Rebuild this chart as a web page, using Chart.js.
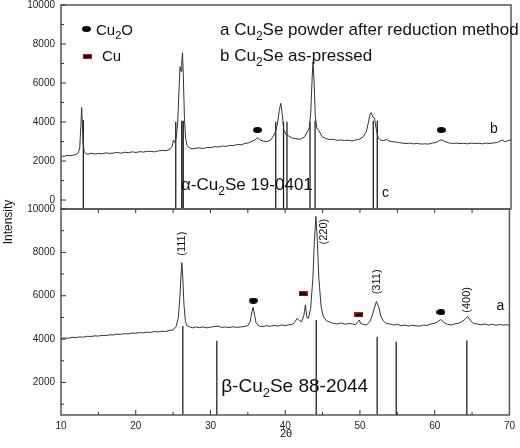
<!DOCTYPE html>
<html>
<head>
<meta charset="utf-8">
<script src="https://cdn.jsdelivr.net/npm/chart.js@4.4.0/dist/chart.umd.min.js"></script>
<style>
body{margin:0;background:#fff;}
#wrap{position:relative;width:520px;height:448px;}
#wrap canvas{position:absolute;left:0;}
</style>
</head>
<body>
<div id="wrap">
<canvas id="topChart" width="520" height="215" style="top:0"></canvas>
<canvas id="botChart" width="520" height="249" style="top:199px"></canvas>
</div>
<script>
const FONT = "'Liberation Sans', Arial, sans-serif";

// Trace b : Cu2Se as-pressed (top panel)
const bX = [10.0,10.4,10.8,11.2,11.6,12.0,12.3,12.5,12.65,12.75,12.85,12.95,13.1,13.3,13.6,14.0,14.5,15.0,15.5,16.0,16.5,17.0,17.5,18.0,18.5,19.0,19.5,20.0,20.5,21.0,21.5,22.0,22.5,23.0,23.5,24.0,24.5,24.8,25.0,25.15,25.35,25.55,25.75,25.87,26.0,26.1,26.2,26.3,26.45,26.6,26.8,27.0,27.3,27.6,28.0,28.5,29.0,29.5,30.0,30.5,31.0,31.5,32.0,32.5,33.0,33.5,34.0,34.5,35.0,35.5,35.9,36.2,36.5,37.0,37.5,38.0,38.3,38.6,38.9,39.1,39.3,39.5,39.7,40.0,40.3,40.7,41.2,41.6,42.0,42.5,42.9,43.1,43.3,43.5,43.6,43.75,43.9,44.1,44.4,44.8,45.3,45.8,46.3,46.8,47.3,47.8,48.3,48.8,49.3,49.8,50.3,50.7,51.0,51.2,51.35,51.6,51.8,52.0,52.3,52.6,53.0,53.4,53.6,54.0,54.5,55.0,55.5,56.0,56.5,57.0,57.5,58.0,58.5,59.0,59.5,60.0,60.5,60.8,61.2,61.7,62.2,62.7,63.2,63.7,64.2,64.7,65.2,65.7,66.2,66.7,67.2,67.7,68.2,68.8,69.2,69.6,70.0];
const bY = [2260,2240,2290,2270,2300,2330,2420,2700,3800,4750,3900,2900,2450,2380,2350,2400,2360,2390,2370,2420,2390,2410,2440,2400,2450,2430,2470,2440,2480,2460,2500,2490,2470,2520,2540,2530,2600,2750,3080,2950,3150,3900,5800,6840,6600,7100,7550,6500,4300,3200,2800,2700,2650,2620,2660,2670,2640,2700,2690,2740,2720,2770,2750,2800,2790,2850,2830,2900,2930,3020,3100,3200,3080,3020,2990,3100,3280,3500,4000,4600,4960,4400,3600,3350,3300,3200,3150,3120,3130,3250,3550,3700,4500,6400,7090,6000,4300,3700,3550,3250,3150,3100,3120,3060,3080,3050,3070,3030,3080,3120,3250,3500,4000,4400,4480,4250,4200,3700,3180,3080,3050,3100,3050,3000,2980,2950,2920,2900,2920,2880,2900,2870,2880,2870,2920,2950,3060,3080,3000,2930,2900,2920,2890,2910,2880,2920,2900,2910,2880,2920,2900,2930,2950,3080,2980,3050,3080];

// Trace a : Cu2Se powder after reduction (bottom panel)
const aX = [10.0,10.5,11.0,11.5,12.0,12.5,13.0,13.5,14.0,14.5,15.0,15.5,16.0,16.5,17.0,17.5,18.0,18.5,19.0,19.5,20.0,20.5,21.0,21.5,22.0,22.5,23.0,23.5,24.0,24.5,25.0,25.4,25.7,25.9,26.05,26.17,26.3,26.45,26.65,26.9,27.2,27.6,28.0,28.5,29.0,29.5,30.0,30.5,31.0,31.5,32.0,32.5,33.0,33.5,34.0,34.5,35.0,35.3,35.55,35.7,35.85,36.1,36.5,37.0,37.5,38.0,38.5,39.0,39.5,40.0,40.5,41.0,41.3,41.6,41.9,42.2,42.5,42.7,42.9,43.1,43.4,43.7,43.9,44.1,44.3,44.5,44.8,45.1,45.5,46.0,46.5,47.0,47.5,48.0,48.5,49.0,49.4,49.7,49.9,50.1,50.5,50.9,51.3,51.6,51.9,52.2,52.5,52.8,53.1,53.5,54.0,54.5,55.0,55.5,56.0,56.5,57.0,57.5,58.0,58.5,59.0,59.5,60.0,60.4,60.8,61.2,61.7,62.2,62.7,63.2,63.6,64.0,64.4,64.8,65.2,65.7,66.2,66.7,67.2,67.7,68.2,68.7,69.2,69.6,70.0];
const aY = [4030,4050,4040,4080,4070,4100,4090,4130,4120,4150,4140,4170,4160,4200,4190,4230,4220,4250,4240,4280,4270,4300,4290,4320,4310,4350,4330,4360,4350,4400,4420,4580,5000,5900,6900,7530,6800,5600,4800,4600,4570,4520,4560,4530,4560,4520,4550,4580,4600,4540,4560,4530,4570,4540,4560,4580,4620,4800,5250,5470,5200,4750,4600,4580,4620,4590,4630,4600,4650,4620,4660,4680,4800,4960,4850,4800,5100,5580,5000,4960,5400,6800,8500,9660,8500,6800,5500,5040,4850,4780,4720,4700,4740,4690,4720,4700,4660,4800,4880,4720,4680,4650,4800,5040,5400,5730,5500,5050,4850,4720,4700,4650,4680,4620,4650,4600,4640,4610,4600,4650,4630,4700,4730,4800,4900,4780,4680,4650,4700,4730,4800,4900,5040,4850,4720,4700,4660,4700,4650,4680,4640,4670,4650,4660,4650];

// reference patterns
const alphaX = [12.98,25.3,26.1,26.3,38.63,39.67,40.13,43.2,43.88,51.64,52.17];
const alphaTop = [4100,4020,4060,4060,4020,4020,4020,4020,4060,4060,4060];
const betaX = [26.3,30.85,44.15,52.3,54.85,64.3];
const betaTop = [4600,3920,4880,4110,3880,3930];

// phase markers
const cu2oTopX = [36.2,60.7];
const cu2oTopY = [3590,3590];
const cu2oBotX = [35.73,60.84];
const cu2oBotY = [5777,5240];
const cuBotX = [42.4,49.87];
const cuBotY = [6087,5115];

// peak indexes
const hklText = ['(111)','(220)','(311)','(400)'];
const hklX = [26.2,45.2,52.3,64.3];
const hklY = [8400,8955,6640,5810];

const yTicksTop = [0,2000,4000,6000,8000,10000];
const yTicksBot = [2000,4000,6000,8000,10000];

const xy = (xs, ys) => xs.map((v, i) => ({x: v, y: ys[i]}));

const sticks = (xs, tops, base) => {
    const pts = [];
    xs.forEach((v, i) => {
        pts.push({x: v, y: base}, {x: v, y: tops[i]}, {x: v, y: null});
    });
    return pts;
};

const ellipseImg = () => {
    const c = document.createElement('canvas');
    c.width = 9; c.height = 6;
    const g = c.getContext('2d');
    g.fillStyle = '#000';
    g.beginPath();
    g.ellipse(4.5, 3, 4.5, 3, 0, 0, Math.PI * 2);
    g.fill();
    return c;
};
const cuImg = () => {
    const c = document.createElement('canvas');
    c.width = 9; c.height = 5;
    const g = c.getContext('2d');
    g.fillStyle = '#d01010';
    g.fillRect(0, 0, 9, 5);
    g.fillStyle = '#000';
    g.fillRect(1, 1, 7, 3);
    return c;
};
const oxideMark = ellipseImg();
const copperMark = cuImg();

// text with "_x" subscripts
const drawRich = (ctx, str, x, y, size, align) => {
    const parts = [];
    for (let i = 0; i < str.length; i++) {
        if (str[i] === '_') {
            parts.push({t: str[i + 1], sub: true});
            i++;
        } else if (parts.length && !parts[parts.length - 1].sub) {
            parts[parts.length - 1].t += str[i];
        } else {
            parts.push({t: str[i], sub: false});
        }
    }
    let w = 0;
    parts.forEach(p => {
        ctx.font = (p.sub ? Math.round(size * 0.7) : size) + 'px ' + FONT;
        p.w = ctx.measureText(p.t).width;
        w += p.w;
    });
    let cx = align === 'center' ? x - w / 2 : x;
    ctx.textAlign = 'left';
    parts.forEach(p => {
        ctx.font = (p.sub ? Math.round(size * 0.7) : size) + 'px ' + FONT;
        ctx.fillText(p.t, cx, p.sub ? y + size * 0.28 : y);
        cx += p.w;
    });
};

const panelPlugin = {
    id: 'panel',
    afterDraw(chart, args, opts) {
        const {ctx, chartArea: a} = chart;
        const x = chart.scales.x, y = chart.scales.y;
        const seg = (x1, y1, x2, y2) => {
            ctx.beginPath(); ctx.moveTo(x1, y1); ctx.lineTo(x2, y2); ctx.stroke();
        };
        ctx.save();
        ctx.strokeStyle = '#555';
        ctx.lineWidth = 1.5;
        ctx.strokeRect(a.left, a.top, a.right - a.left, a.bottom - a.top);
        ctx.lineWidth = 1;
        ctx.strokeStyle = '#333';
        for (let v = opts.yStart; v <= 10000; v += 1000) {
            const py = y.getPixelForValue(v);
            seg(a.left, py, a.left + (v % 2000 === 0 ? 5 : 3), py);
        }
        for (let v = 15; v < 70; v += 5) {
            const px = x.getPixelForValue(v);
            if (opts.xBottom) seg(px, a.bottom, px, a.bottom - (v % 10 === 0 ? 5 : 3));
            if (opts.xTop) seg(px, a.top, px, a.top + 4);
        }
        ctx.fillStyle = '#111';
        ctx.textBaseline = 'alphabetic';
        opts.notes.forEach(n => {
            const px = n.x !== undefined ? x.getPixelForValue(n.x) : n.px;
            const py = n.y !== undefined ? y.getPixelForValue(n.y) : n.py;
            if (n.rot) {
                ctx.save();
                ctx.translate(px, py);
                ctx.rotate(-Math.PI / 2);
                ctx.textBaseline = 'middle';
                drawRich(ctx, n.text, 0, 0, n.size, 'center');
                ctx.restore();
            } else {
                drawRich(ctx, n.text, px, py, n.size, n.align);
            }
        });
        (opts.icons || []).forEach(ic => {
            ctx.drawImage(ic.img, Math.round(ic.px - ic.img.width / 2), Math.round(ic.py - ic.img.height / 2));
        });
        ctx.restore();
    }
};

const panelChart = (id, cfg) => {
    const xScale = {
        type: 'linear', min: 10, max: 70, display: cfg.showX,
        grid: {display: false, drawTicks: false}, border: {display: false},
        ticks: {stepSize: 10, padding: 5, color: '#222', font: {family: FONT, size: 10}}
    };
    if (cfg.showX) xScale.afterFit = s => { s.height = 33; };
    return new Chart(document.getElementById(id), {
        type: 'line',
        data: {datasets: cfg.datasets},
        options: {
            responsive: false,
            animation: false,
            events: [],
            layout: {padding: cfg.padding},
            scales: {
                x: xScale,
                y: {
                    min: cfg.yMin, max: 10000,
                    grid: {display: false, drawTicks: false}, border: {display: false},
                    ticks: {padding: 6, color: '#222', font: {family: FONT, size: 10}, callback: v => v},
                    afterBuildTicks: s => { s.ticks = cfg.yTicks.map(v => ({value: v})); },
                    afterFit: s => { s.width = 61; s.paddingTop = 0; s.paddingBottom = 0; }
                }
            },
            plugins: {
                legend: {display: false},
                tooltip: {enabled: false},
                panel: cfg.panel
            }
        },
        plugins: [panelPlugin]
    });
};

const markSet = (xs, ys, img) => ({
    type: 'scatter', data: xy(xs, ys), pointStyle: img, pointRadius: 4, showLine: false
});
const traceSet = (xs, ys) => ({
    data: xy(xs, ys), borderColor: '#333', borderWidth: 1, pointRadius: 0, tension: 0
});
const stickSet = (xs, tops, base) => ({
    data: sticks(xs, tops, base), borderColor: '#222', borderWidth: 1.3, pointRadius: 0, spanGaps: false
});

const topMin = -460;
const botMin = 500;

panelChart('topChart', {
    yMin: topMin,
    yTicks: yTicksTop,
    showX: false,
    padding: {top: 5, right: 9, bottom: 6, left: 0},
    datasets: [
        markSet(cu2oTopX, cu2oTopY, oxideMark),
        traceSet(bX, bY),
        stickSet(alphaX, alphaTop, topMin)
    ],
    panel: {
        yStart: 0, xBottom: false, xTop: false,
        icons: [{img: oxideMark, px: 86, py: 29}, {img: copperMark, px: 87, py: 56}],
        notes: [
            {text: 'Cu_2O', px: 96, py: 35, size: 15},
            {text: 'Cu', px: 102, py: 61, size: 15},
            {text: 'a Cu_2Se powder after reduction method', px: 220, py: 35, size: 17},
            {text: 'b Cu_2Se as-pressed', px: 220, py: 61, size: 17},
            {text: 'α-Cu_2Se 19-0401', x: 26.0, y: 513, size: 17},
            {text: 'b', x: 67.2, y: 3436, size: 14},
            {text: 'c', x: 52.8, y: 154, size: 14}
        ]
    }
});

panelChart('botChart', {
    yMin: botMin,
    yTicks: yTicksBot,
    showX: true,
    padding: {top: 10, right: 9, bottom: 0, left: 0},
    datasets: [
        markSet(cu2oBotX, cu2oBotY, oxideMark),
        markSet(cuBotX, cuBotY, copperMark),
        traceSet(aX, aY),
        stickSet(betaX, betaTop, botMin)
    ],
    panel: {
        yStart: 1000, xBottom: true, xTop: true,
        notes: hklText.map((t, i) => ({text: t, x: hklX[i], y: hklY[i], size: 11, rot: true})).concat([
            {text: 'a', x: 68.27, y: 5347, size: 14},
            {text: 'β-Cu_2Se 88-2044', x: 31.43, y: 1566, size: 19},
            {text: 'Intensity', px: 9, py: 23, size: 12, rot: true},
            {text: '2θ', px: 286, py: 238, size: 11, align: 'center'}
        ])
    }
});
</script>
</body>
</html>
